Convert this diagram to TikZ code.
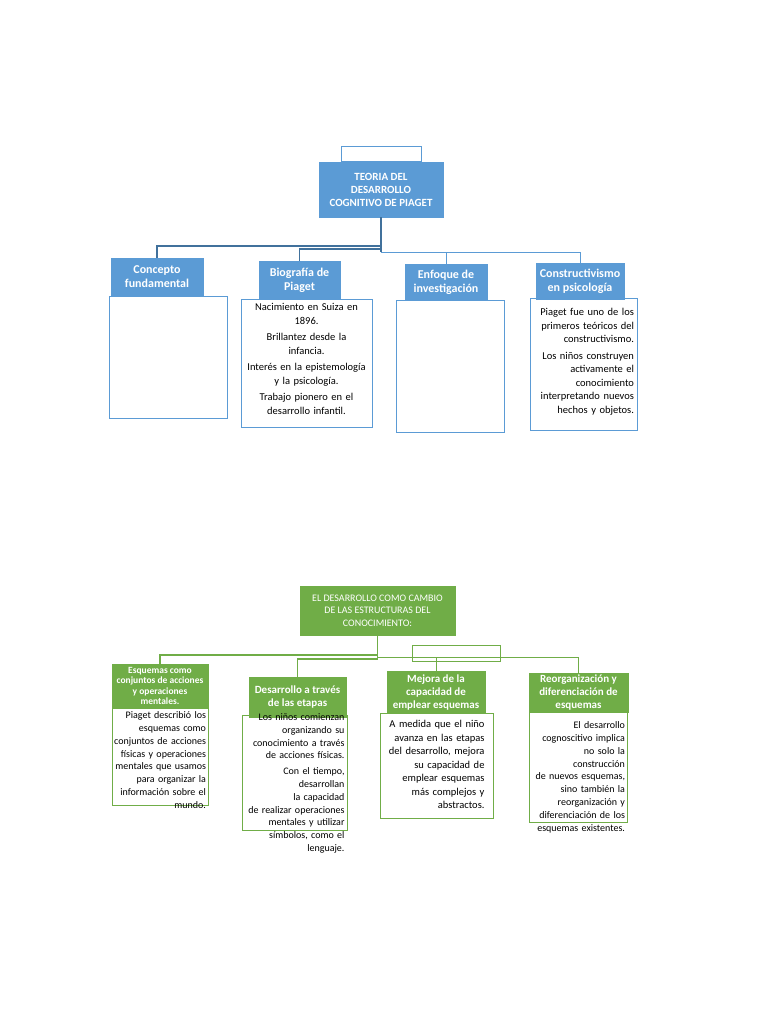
\documentclass[tikz,border=0pt]{standalone}
\usepackage{fontspec}
\setmainfont{Carlito}
\usetikzlibrary{calc}
\definecolor{bl}{HTML}{5B9BD5}
\definecolor{bll}{HTML}{41719C}
\definecolor{gr}{HTML}{70AD47}
\hyphenpenalty=10000
\exhyphenpenalty=10000
\begin{document}
\begin{tikzpicture}[x=1pt,y=-1pt,
 hb/.style={fill=bl,draw=bl,text=white,font=\bfseries\fontsize{12}{14}\selectfont,align=center,inner sep=1pt},
 bb/.style={draw=bl,line width=1pt,fill=white},
 hg/.style={fill=gr,draw=gr,text=white,font=\bfseries\fontsize{11}{13}\selectfont,align=center,inner sep=1pt},
 gb/.style={draw=gr,line width=1pt,fill=white},
 tx/.style={font=\fontsize{10.5}{13.5}\selectfont,anchor=north,inner sep=1pt},
 txg/.style={font=\fontsize{10}{12.8}\selectfont,anchor=north,inner sep=1pt},
 cb/.style={draw=bll,line width=1.2pt},
 cg/.style={draw=gr,line width=1.2pt}]
\useasboundingbox (0,0) rectangle (768,1024);
% ---------- top ----------
\node[draw=bl,line width=1pt,minimum width=80,minimum height=15] (sb) at (381,154.5) {};
\node[hb,minimum width=124,minimum height=55,font=\bfseries\fontsize{11}{13}\selectfont] (t1) at (381,189.5) {TEORIA DEL\\DESARROLLO\\COGNITIVO DE PIAGET};
\node[bb,minimum width=118,minimum height=122] (c1b) at (168,357) {};
\node[bb,minimum width=131,minimum height=128] (c2b) at (306.5,363) {};
\node[bb,minimum width=108,minimum height=132] (c3b) at (450,366) {};
\node[bb,minimum width=107,minimum height=132] (c4b) at (583.5,364) {};
\node[hb,minimum width=92,minimum height=38] (c1h) at (157,277) {Concepto\\fundamental};
\node[hb,minimum width=81,minimum height=38] (c2h) at (299.5,280) {Biografía de\\Piaget};
\node[hb,minimum width=82,minimum height=36] (c3h) at (446,282) {Enfoque de\\investigación};
\node[hb,minimum width=88,minimum height=36] (c4h) at (580,281) {Constructivismo\\en psicología};
\node[tx,text width=126,align=center] (c2t) at ($(c2b.north)+(0,4)$) {Nacimiento en Suiza en\\1896.\\[3pt]Brillantez desde la\\infancia.\\[3pt]Interés en la epistemología\\y la psicología.\\[3pt]Trabajo pionero en el\\desarrollo infantil.};
\node[tx,text width=103,align=right] (c4t) at ($(c4b.north)+(-1,10)$) {Piaget fue uno de los\\primeros teóricos del\\constructivismo.\\[3pt]Los niños construyen\\activamente el\\conocimiento\\interpretando nuevos\\hechos y objetos.};
\coordinate (j1) at (381,246);
\coordinate (j2) at (381,249);
\coordinate (j3) at (381,252);
\draw[cb] (t1.south) -- (j3);
\draw[cb] (j1) -| (c1h.north);
\draw[cb] (j2) -| (c2h.north);
\draw[draw=bl,line width=1pt] (j3) -| (c3h.north);
\draw[draw=bl,line width=1pt] (j3) -| (c4h.north);
% ---------- bottom ----------
\node[hg,minimum width=155,minimum height=49,font=\fontsize{10}{12.5}\selectfont] (t2) at (377.5,610.5) {EL DESARROLLO COMO CAMBIO\\DE LAS ESTRUCTURAS DEL\\CONOCIMIENTO:};
\node[draw=gr,line width=1pt,minimum width=88,minimum height=16] (sr) at (456,653) {};
\node[gb,minimum width=96,minimum height=97] (e1b) at (160,756.5) {};
\node[gb,minimum width=105,minimum height=115] (e2b) at (294.5,772.5) {};
\node[gb,minimum width=113,minimum height=105] (e3b) at (436.5,765.5) {};
\node[gb,minimum width=98,minimum height=110] (e4b) at (578,767) {};
\node[hg,minimum width=96,minimum height=44,font=\bfseries\fontsize{9.5}{10.5}\selectfont] (e1h) at (160,686) {Esquemas como\\conjuntos de acciones\\y operaciones\\mentales.};
\node[hg,minimum width=97,minimum height=40] (e2h) at (297.5,697) {Desarrollo a través\\de las etapas};
\node[hg,minimum width=98,minimum height=42] (e3h) at (436,692) {Mejora de la\\capacidad de\\emplear esquemas};
\node[hg,minimum width=99,minimum height=39] (e4h) at (578.5,692.5) {Reorganización y\\diferenciación de\\esquemas};
\node[txg,text width=92,align=right] (e1t) at ($(e1b.north)+(0,3)$) {Piaget describió los\\esquemas como\\conjuntos de acciones\\físicas y operaciones\\mentales que usamos\\para organizar la\\información sobre el\\mundo.};
\node[txg,text width=100,align=right] (e2t) at ($(e2b.north)+(0,-2)$) {Los niños comienzan\\organizando su\\conocimiento a través\\de acciones físicas.\\[3pt]Con el tiempo,\\desarrollan la capacidad\\de realizar operaciones\\mentales y utilizar\\símbolos, como el\\lenguaje.};
\node[tx,text width=104,align=right] (e3t) at ($(e3b.north)+(-4,7)$) {A medida que el niño\\avanza en las etapas\\del desarrollo, mejora\\su capacidad de\\emplear esquemas\\más complejos y\\abstractos.};
\node[txg,text width=96,align=right] (e4t) at ($(e4b.north)+(-1,9)$) {El desarrollo\\cognoscitivo implica\\no solo la construcción\\de nuevos esquemas,\\sino también la\\reorganización y\\diferenciación de los\\esquemas existentes.};
\coordinate (k1) at (377.5,655);
\coordinate (k2) at (377.5,659);
\coordinate (k3) at (377.5,657);
\draw[cg] (t2.south) -- (k2);
\draw[cg] (k1) -| (e1h.north);
\draw[cg] (k2) -| (e2h.north);
\draw[draw=gr,line width=1pt] (k3) -| (e3h.north);
\draw[draw=gr,line width=1pt] (k3) -| (e4h.north);
\end{tikzpicture}
\end{document}
